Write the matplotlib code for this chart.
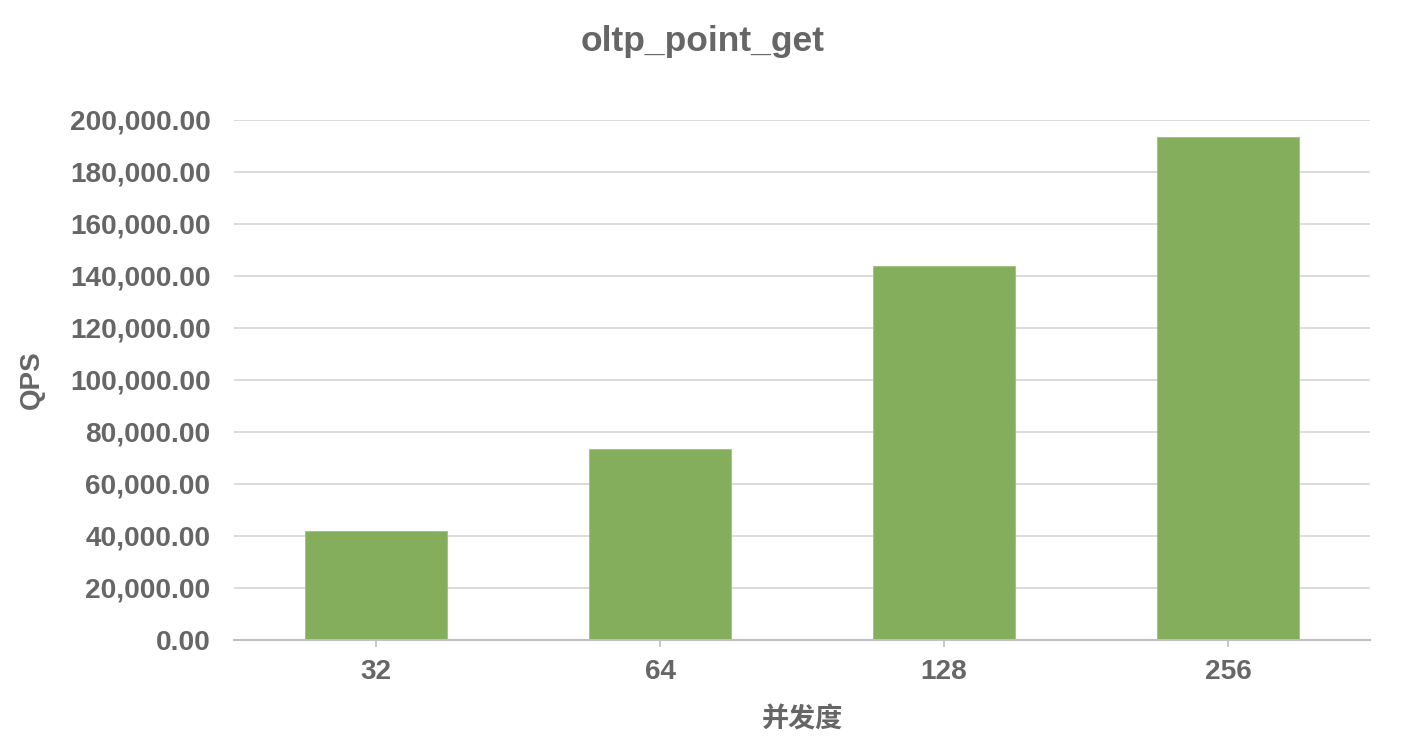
import matplotlib
matplotlib.use("Agg")
import matplotlib.pyplot as plt
from matplotlib.ticker import FuncFormatter

# ===== DATA =====
categories = ["32", "64", "128", "256"]
qps = [42100, 73600, 143700, 193600]
y_ticks = [0, 20000, 40000, 60000, 80000, 100000, 120000, 140000, 160000, 180000, 200000]

# ===== STYLE =====
TEXT_COLOR = "#666666"
BAR_COLOR = "#84ae5c"
GRID_COLOR = "#d9d9d9"
AXIS_COLOR = "#bfbfbf"

plt.rcParams['font.family'] = ['Liberation Sans', 'Noto Sans CJK SC', 'DejaVu Sans']
plt.rcParams['font.weight'] = 'bold'

fig = plt.figure(figsize=(14.04, 7.36), dpi=100)
ax = fig.add_axes([234 / 1404, 1 - 640 / 736, (1370 - 234) / 1404, (640 - 120) / 736])

x = range(len(categories))
ax.bar(x, qps, width=0.5, color=BAR_COLOR, edgecolor="#9cc27a", linewidth=0.6, zorder=3)

ax.set_xlim(-0.5, len(categories) - 0.5)
ax.set_ylim(0, 200000)
ax.set_yticks(y_ticks)
ax.yaxis.set_major_formatter(FuncFormatter(lambda v, p: f"{v:,.2f}"))
ax.set_xticks(list(x))
ax.set_xticklabels(categories)

ax.grid(axis="y", color=GRID_COLOR, linewidth=1.3, zorder=0)
ax.set_axisbelow(True)
for s in ["top", "right", "left"]:
    ax.spines[s].set_visible(False)
ax.spines["bottom"].set_color(AXIS_COLOR)
ax.spines["bottom"].set_linewidth(1.5)
ax.spines["bottom"].set_zorder(4)

ax.tick_params(axis="y", length=0, pad=17, labelsize=20.2, labelcolor=TEXT_COLOR)
ax.tick_params(axis="x", length=5, width=1.2, color=AXIS_COLOR, pad=9,
               labelsize=20.2, labelcolor=TEXT_COLOR)
for lbl in ax.get_xticklabels() + ax.get_yticklabels():
    lbl.set_fontweight("bold")

fig.text(703 / 1404, 1 - 42 / 736, "oltp_point_get", ha="center", va="center",
         fontsize=25.5, fontweight="bold", color=TEXT_COLOR)
fig.text(32 / 1404, 1 - 380 / 736, "QPS", ha="center", va="center", rotation=90,
         fontsize=20, fontweight="bold", color=TEXT_COLOR)
fig.text(802 / 1404, 1 - 720 / 736, "并发度", ha="center", va="center",
         fontsize=19.5, fontweight="bold", color=TEXT_COLOR,
         family=['Noto Sans CJK SC', 'DejaVu Sans'])

fig.savefig("out.png", dpi=100, facecolor="white")
